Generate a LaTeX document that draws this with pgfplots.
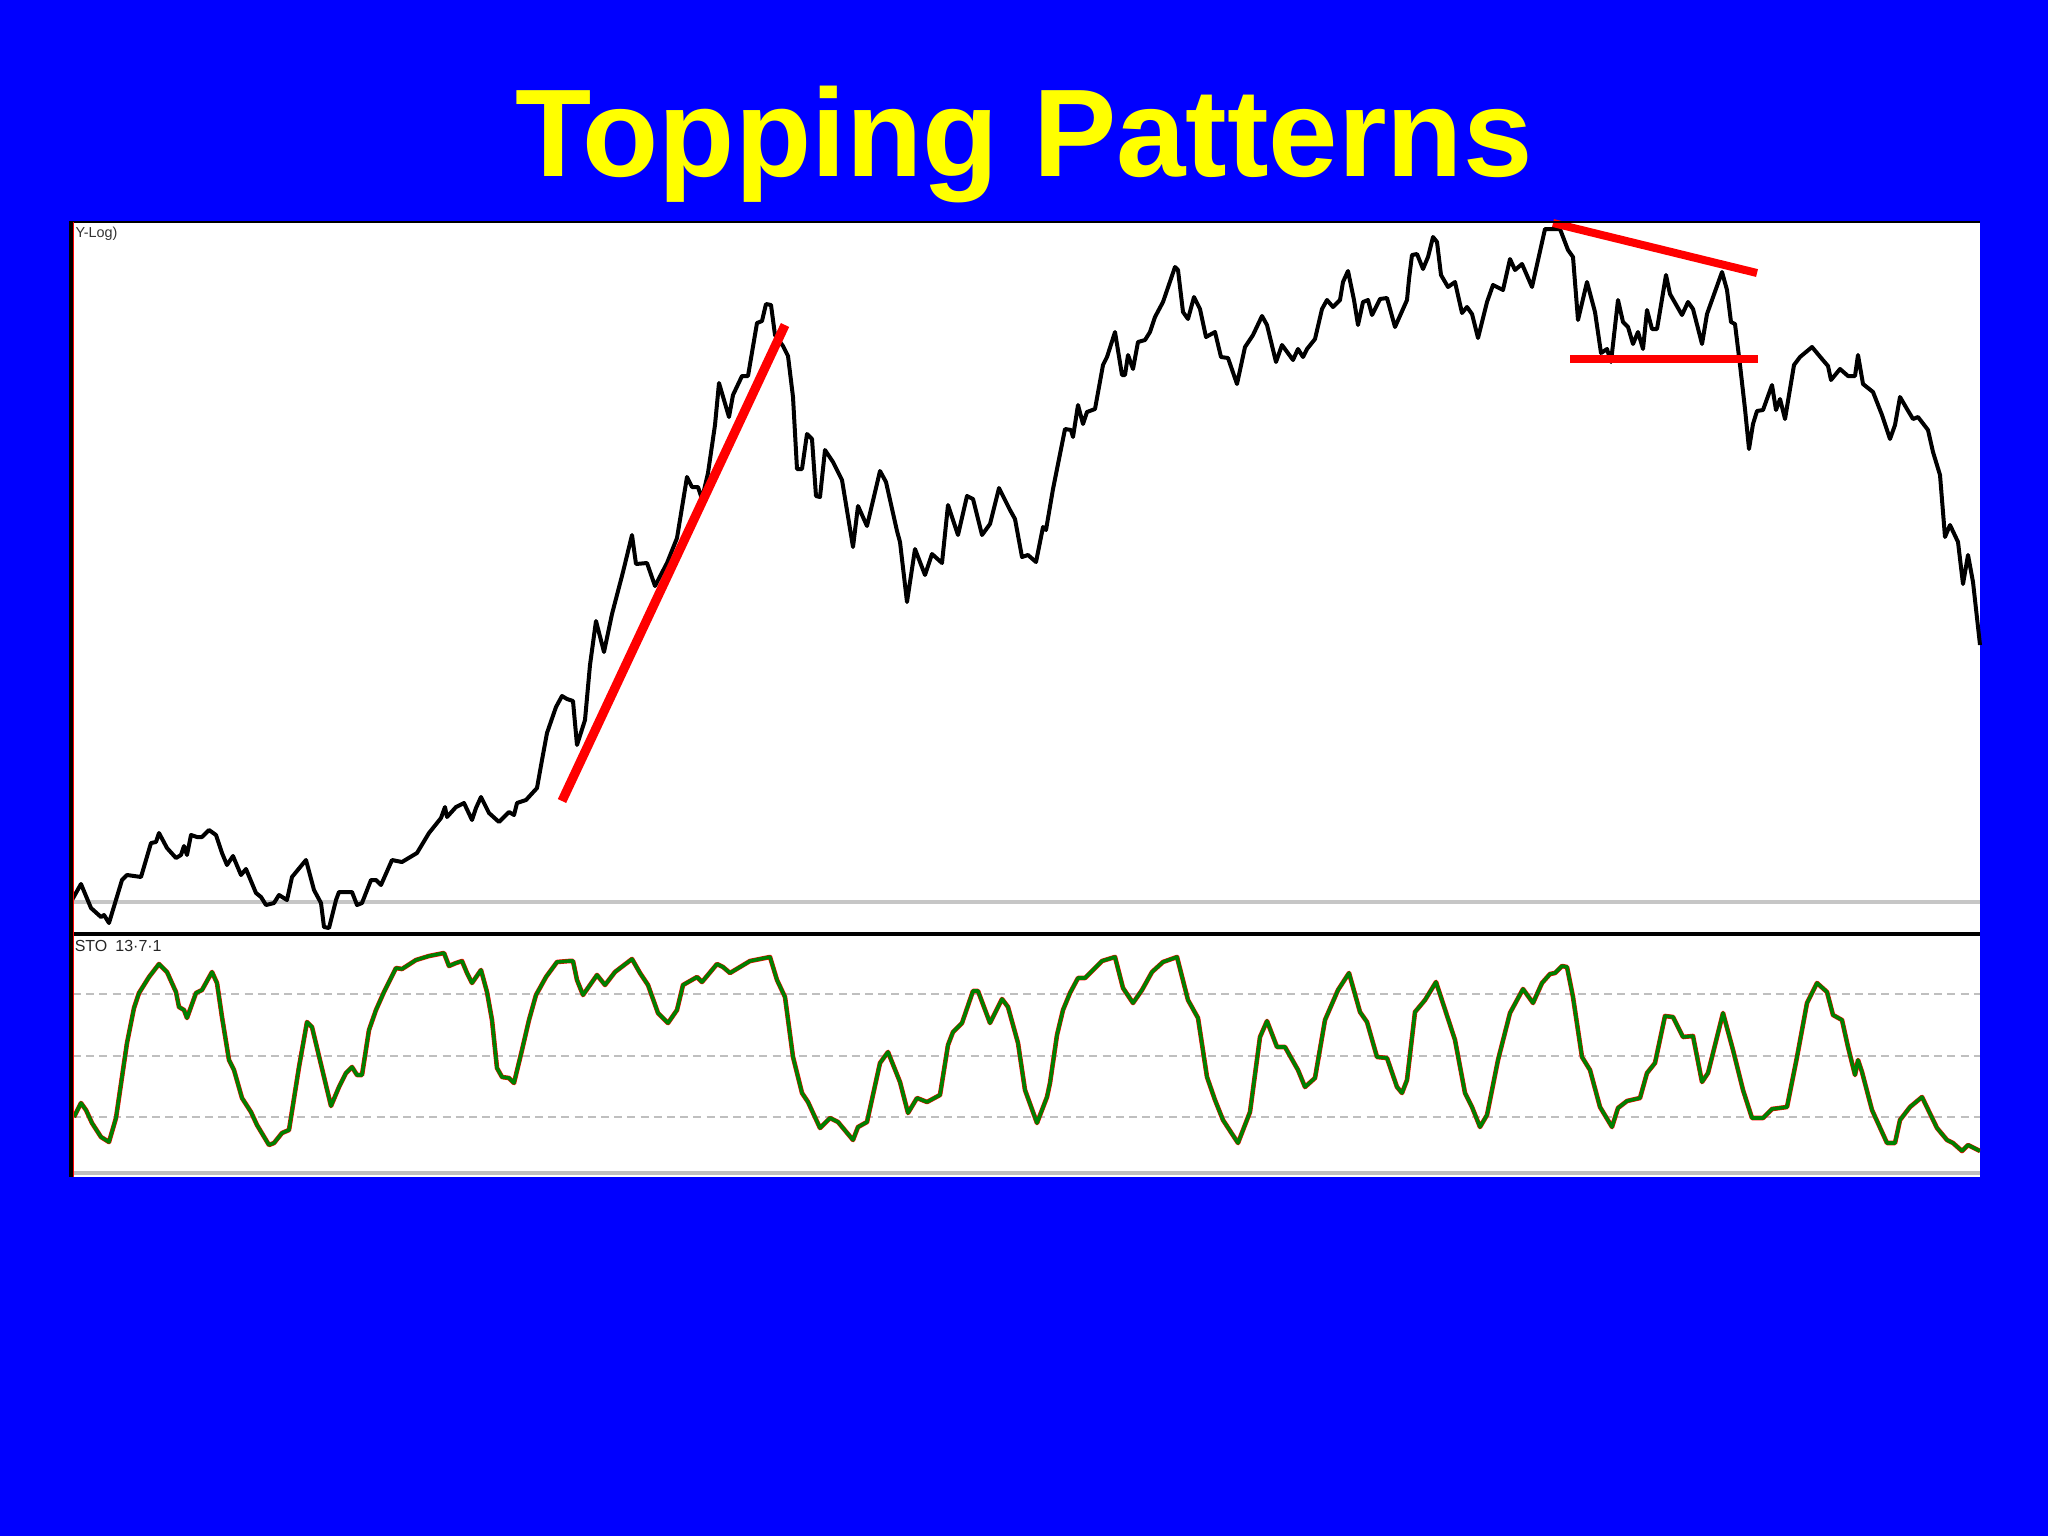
\documentclass[border=0pt]{standalone}
\usepackage{pgfplots}
\pgfplotsset{compat=1.18}
\usepackage{fontspec}
\setmainfont{Liberation Sans}
\definecolor{slideblue}{RGB}{0,0,255}
\definecolor{titleyellow}{RGB}{255,255,0}
\definecolor{stogreen}{RGB}{0,128,0}
\begin{document}
\begin{tikzpicture}
\fill[slideblue] (0,0) rectangle (512pt,384pt);
\node[anchor=base, text=titleyellow, font=\fontsize{31.2}{31}\selectfont\bfseries] at (256pt,340pt) {Topping Patterns};
% price panel
\begin{axis}[at={(17.25pt,150.5pt)}, anchor=south west, scale only axis,
  width=477.75pt, height=178pt, xmin=69, xmax=1980, ymin=222, ymax=934,
  y dir=reverse, axis line style={draw=none}, ticks=none,
  axis background/.style={fill=white}, clip=false]
\addplot[gray!45, line width=0.8pt] coordinates {(71,902)(1980,902)};
\addplot[black, line width=1pt, line join=round] coordinates {
(72,900)(81,884)(91,908)(101,917)(104,915)(109,923)(122,880)(127,875)(141,877)(151,843)(156,842)(159,833)(167,848)(176,858)(181,855)(184,846)(187,855)(191,835)(197,837)(202,837)(209,830)(216,835)(222,853)(227,865)(233,856)(241,875)(246,869)(256,893)(261,897)(266,905)(274,903)(279,895)(287,900)(292,877)(306,860)(314,890)(321,903)(324,927)(329,928)(336,900)(339,892)(352,892)(357,905)(362,903)(371,880)(376,880)(381,885)(392,860)(402,862)(417,853)(429,833)(441,818)(445,807)(447,817)(456,807)(464,803)(472,820)(476,808)(481,797)(489,813)(499,822)(509,812)(514,815)(517,803)(526,800)(537,788)(542,760)(547,733)(556,707)(562,696)(567,699)(573,701)(577,745)(585,720)(590,665)(596,621)(604,652)(612,614)(623,572)(632,535)(636,564)(647,563)(655,586)(667,563)(677,538)(687,477)(692,487)(698,487)(702,499)(708,473)(715,425)(719,383)(729,417)(733,395)(742,376)(748,376)(757,323)(762,321)(766,304)(771,305)(775,335)(783,346)(788,356)(793,397)(797,469)(802,469)(807,434)(812,439)(816,496)(820,497)(825,450)(833,462)(842,480)(853,547)(858,506)(867,526)(880,471)(886,482)(897,531)(900,542)(907,602)(915,549)(925,575)(932,554)(942,563)(948,505)(958,535)(967,496)(973,499)(982,535)(990,524)(999,488)(1010,510)(1015,519)(1022,557)(1028,555)(1036,562)(1043,527)(1046,530)(1053,489)(1065,429)(1071,430)(1073,437)(1078,405)(1083,424)(1087,412)(1095,409)(1103,365)(1107,357)(1115,332)(1122,375)(1125,375)(1128,355)(1133,369)(1138,342)(1145,340)(1150,332)(1155,317)(1163,302)(1175,267)(1178,270)(1183,312)(1188,319)(1194,297)(1200,309)(1206,337)(1215,332)(1221,357)(1228,358)(1237,384)(1245,347)(1253,335)(1262,316)(1267,325)(1276,362)(1282,345)(1293,360)(1298,349)(1303,357)(1307,349)(1315,339)(1322,309)(1327,300)(1333,307)(1340,300)(1343,282)(1348,271)(1354,300)(1358,325)(1363,302)(1368,300)(1372,315)(1380,299)(1387,298)(1395,327)(1407,300)(1409,279)(1412,255)(1417,254)(1423,269)(1428,257)(1433,237)(1437,242)(1441,275)(1448,287)(1455,282)(1462,313)(1467,307)(1472,314)(1478,338)(1487,302)(1493,285)(1503,290)(1510,259)(1515,270)(1522,264)(1532,287)(1545,229)(1560,229)(1568,250)(1573,257)(1578,320)(1587,282)(1595,312)(1601,353)(1607,349)(1611,362)(1618,300)(1623,322)(1628,327)(1633,344)(1638,332)(1643,349)(1647,310)(1652,329)(1657,329)(1666,275)(1670,294)(1682,315)(1688,302)(1693,309)(1702,344)(1707,314)(1722,272)(1727,290)(1731,322)(1735,324)(1740,365)(1745,409)(1749,449)(1753,424)(1757,411)(1763,410)(1772,385)(1776,410)(1780,399)(1785,419)(1794,365)(1800,357)(1812,347)(1822,359)(1828,366)(1831,380)(1840,369)(1848,376)(1855,376)(1858,355)(1863,384)(1873,392)(1882,415)(1890,439)(1895,425)(1900,397)(1907,409)(1913,419)(1918,417)(1928,430)(1933,452)(1940,475)(1945,537)(1950,525)(1958,542)(1963,584)(1968,555)(1973,582)(1980,645)};
\addplot[red, line width=2.3pt] coordinates {(562,801)(785,325)};
\addplot[red, line width=2pt] coordinates {(1553,223)(1757,273)};
\addplot[red, line width=2pt] coordinates {(1570,359)(1758,359)};
\end{axis}
% stochastic panel
\begin{axis}[at={(17.25pt,89.75pt)}, anchor=south west, scale only axis,
  width=477.75pt, height=60.75pt, xmin=69, xmax=1980, ymin=934, ymax=1177,
  y dir=reverse, axis line style={draw=none}, ticks=none,
  axis background/.style={fill=white}, clip=true]
\addplot[gray!50, dash pattern=on 2pt off 1.3pt, line width=0.5pt] coordinates {(73,994)(1980,994)};
\addplot[gray!50, dash pattern=on 2pt off 1.3pt, line width=0.5pt] coordinates {(73,1056)(1980,1056)};
\addplot[gray!50, dash pattern=on 2pt off 1.3pt, line width=0.5pt] coordinates {(73,1117)(1980,1117)};
\addplot[gray!50, line width=0.8pt] coordinates {(69,1173)(1980,1173)};
\pgfplotsset{stoline/.style={line join=round}}
\addplot[red, line width=1.15pt, stoline] coordinates {
(74,1117)(81,1103)(86,1110)(92,1123)(101,1137)(109,1142)(116,1118)(122,1077)(127,1043)(134,1008)(139,993)(149,977)(159,964)(167,972)(176,992)(179,1007)(184,1010)(187,1018)(196,993)(202,990)(212,972)(217,983)(222,1017)(229,1060)(234,1070)(242,1098)(251,1112)(257,1125)(269,1145)(274,1143)(282,1133)(289,1130)(299,1067)(307,1022)(312,1027)(331,1106)(339,1087)(346,1073)(352,1067)(357,1075)(362,1075)(369,1030)(376,1010)(384,992)(396,968)(402,969)(416,960)(429,956)(444,953)(449,966)(456,963)(462,961)(467,973)(472,983)(481,970)(487,992)(492,1020)(497,1068)(502,1077)(509,1078)(514,1083)(522,1050)(529,1020)(536,995)(546,977)(557,962)(569,961)(573,961)(577,980)(583,995)(597,975)(605,985)(615,972)(632,959)(640,973)(648,985)(658,1013)(668,1023)(677,1010)(683,985)(697,977)(702,982)(717,964)(723,967)(730,973)(750,961)(770,957)(777,980)(785,997)(793,1057)(802,1093)(808,1102)(820,1128)(830,1118)(838,1122)(853,1140)(858,1127)(867,1122)(880,1063)(888,1052)(900,1082)(908,1113)(917,1098)(927,1102)(940,1095)(948,1045)(953,1032)(962,1023)(973,991)(978,991)(990,1023)(1002,999)(1008,1007)(1018,1043)(1025,1090)(1037,1123)(1047,1097)(1050,1083)(1057,1035)(1063,1010)(1070,993)(1078,978)(1085,978)(1102,961)(1115,957)(1123,988)(1133,1003)(1142,990)(1152,972)(1163,962)(1177,957)(1188,1000)(1198,1018)(1207,1077)(1215,1100)(1223,1120)(1238,1143)(1250,1112)(1260,1037)(1267,1021)(1277,1047)(1285,1047)(1298,1070)(1305,1087)(1315,1078)(1325,1020)(1338,990)(1349,973)(1360,1012)(1367,1022)(1377,1057)(1387,1058)(1397,1087)(1402,1093)(1407,1080)(1415,1012)(1425,1000)(1436,982)(1455,1040)(1465,1093)(1472,1107)(1480,1127)(1487,1115)(1498,1060)(1510,1013)(1523,989)(1533,1003)(1542,983)(1550,974)(1555,973)(1562,966)(1567,967)(1573,997)(1582,1057)(1590,1070)(1600,1107)(1612,1127)(1618,1108)(1627,1101)(1640,1098)(1647,1073)(1655,1063)(1665,1016)(1673,1017)(1683,1037)(1693,1036)(1702,1082)(1708,1073)(1723,1013)(1733,1050)(1743,1090)(1752,1118)(1763,1118)(1772,1109)(1787,1107)(1797,1057)(1807,1003)(1817,983)(1827,992)(1833,1015)(1842,1020)(1848,1047)(1855,1075)(1858,1060)(1862,1072)(1872,1110)(1887,1143)(1895,1143)(1900,1120)(1910,1107)(1922,1097)(1937,1128)(1947,1140)(1953,1143)(1962,1151)(1968,1145)(1980,1151)};
\addplot[stogreen, line width=0.9pt, stoline] coordinates {
(74,1117)(81,1103)(86,1110)(92,1123)(101,1137)(109,1142)(116,1118)(122,1077)(127,1043)(134,1008)(139,993)(149,977)(159,964)(167,972)(176,992)(179,1007)(184,1010)(187,1018)(196,993)(202,990)(212,972)(217,983)(222,1017)(229,1060)(234,1070)(242,1098)(251,1112)(257,1125)(269,1145)(274,1143)(282,1133)(289,1130)(299,1067)(307,1022)(312,1027)(331,1106)(339,1087)(346,1073)(352,1067)(357,1075)(362,1075)(369,1030)(376,1010)(384,992)(396,968)(402,969)(416,960)(429,956)(444,953)(449,966)(456,963)(462,961)(467,973)(472,983)(481,970)(487,992)(492,1020)(497,1068)(502,1077)(509,1078)(514,1083)(522,1050)(529,1020)(536,995)(546,977)(557,962)(569,961)(573,961)(577,980)(583,995)(597,975)(605,985)(615,972)(632,959)(640,973)(648,985)(658,1013)(668,1023)(677,1010)(683,985)(697,977)(702,982)(717,964)(723,967)(730,973)(750,961)(770,957)(777,980)(785,997)(793,1057)(802,1093)(808,1102)(820,1128)(830,1118)(838,1122)(853,1140)(858,1127)(867,1122)(880,1063)(888,1052)(900,1082)(908,1113)(917,1098)(927,1102)(940,1095)(948,1045)(953,1032)(962,1023)(973,991)(978,991)(990,1023)(1002,999)(1008,1007)(1018,1043)(1025,1090)(1037,1123)(1047,1097)(1050,1083)(1057,1035)(1063,1010)(1070,993)(1078,978)(1085,978)(1102,961)(1115,957)(1123,988)(1133,1003)(1142,990)(1152,972)(1163,962)(1177,957)(1188,1000)(1198,1018)(1207,1077)(1215,1100)(1223,1120)(1238,1143)(1250,1112)(1260,1037)(1267,1021)(1277,1047)(1285,1047)(1298,1070)(1305,1087)(1315,1078)(1325,1020)(1338,990)(1349,973)(1360,1012)(1367,1022)(1377,1057)(1387,1058)(1397,1087)(1402,1093)(1407,1080)(1415,1012)(1425,1000)(1436,982)(1455,1040)(1465,1093)(1472,1107)(1480,1127)(1487,1115)(1498,1060)(1510,1013)(1523,989)(1533,1003)(1542,983)(1550,974)(1555,973)(1562,966)(1567,967)(1573,997)(1582,1057)(1590,1070)(1600,1107)(1612,1127)(1618,1108)(1627,1101)(1640,1098)(1647,1073)(1655,1063)(1665,1016)(1673,1017)(1683,1037)(1693,1036)(1702,1082)(1708,1073)(1723,1013)(1733,1050)(1743,1090)(1752,1118)(1763,1118)(1772,1109)(1787,1107)(1797,1057)(1807,1003)(1817,983)(1827,992)(1833,1015)(1842,1020)(1848,1047)(1855,1075)(1858,1060)(1862,1072)(1872,1110)(1887,1143)(1895,1143)(1900,1120)(1910,1107)(1922,1097)(1937,1128)(1947,1140)(1953,1143)(1962,1151)(1968,1145)(1980,1151)};
\end{axis}
% frame lines
\draw[black, line width=0.5pt] (17.25pt,328.5pt) -- (495pt,328.5pt);
\draw[black, line width=1pt] (17.25pt,150.5pt) -- (495pt,150.5pt);
\draw[black, line width=1pt] (17.7pt,328.75pt) -- (17.7pt,89.75pt);
\draw[red, line width=0.3pt] (18.4pt,328.5pt) -- (18.4pt,89.75pt);
\node[anchor=west, inner sep=0pt, text=black!80, font=\fontsize{3.6}{4}\selectfont] at (18.7pt,325.6pt) {Y-Log)};
\node[anchor=west, inner sep=0pt, text=black!85, font=\fontsize{4}{4.5}\selectfont] at (18.5pt,147.6pt) {STO\enspace 13·7·1};
\end{tikzpicture}
\end{document}
